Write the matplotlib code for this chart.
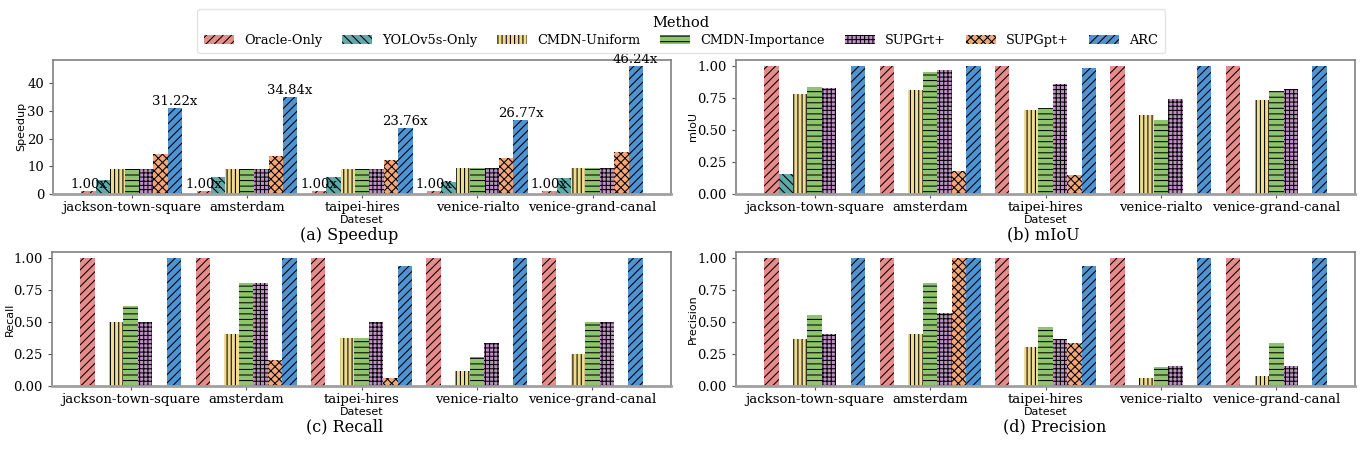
import matplotlib
matplotlib.use("Agg")
import matplotlib.pyplot as plt
import numpy as np

datasets = ["jackson-town-square", "amsterdam", "taipei-hires", "venice-rialto", "venice-grand-canal"]
methods = ["Oracle-Only", "YOLOv5s-Only", "CMDN-Uniform", "CMDN-Importance", "SUPGrt+", "SUPGpt+", "ARC"]
colors = ["#e88c8b", "#5ea9a9", "#f0dc8e", "#8fc46f", "#c08fc6", "#f4a677", "#4f93d3"]
hatches = ["////", "\\\\\\\\", "||||", "---", "++++", "xxxx", "////"]

speedup = {
    "Oracle-Only":     [1.00, 1.00, 1.00, 1.00, 1.00],
    "YOLOv5s-Only":    [5.1, 6.2, 6.2, 4.3, 5.8],
    "CMDN-Uniform":    [9.1, 9.1, 9.1, 9.4, 9.4],
    "CMDN-Importance": [9.1, 9.1, 9.1, 9.4, 9.4],
    "SUPGrt+":         [9.1, 9.1, 9.1, 9.4, 9.4],
    "SUPGpt+":         [14.5, 13.8, 12.3, 13.1, 15.2],
    "ARC":             [31.22, 34.84, 23.76, 26.77, 46.24],
}
miou = {
    "Oracle-Only":     [1.0, 1.0, 1.0, 1.0, 1.0],
    "YOLOv5s-Only":    [0.157, 0.0, 0.0, 0.0, 0.0],
    "CMDN-Uniform":    [0.783, 0.815, 0.658, 0.619, 0.736],
    "CMDN-Importance": [0.838, 0.956, 0.674, 0.580, 0.807],
    "SUPGrt+":         [0.830, 0.971, 0.862, 0.744, 0.822],
    "SUPGpt+":         [0.0, 0.180, 0.149, 0.0, 0.0],
    "ARC":             [1.0, 1.0, 0.984, 1.0, 1.0],
}
recall = {
    "Oracle-Only":     [1.0, 1.0, 1.0, 1.0, 1.0],
    "YOLOv5s-Only":    [0.0, 0.0, 0.0, 0.0, 0.0],
    "CMDN-Uniform":    [0.5, 0.405, 0.375, 0.117, 0.25],
    "CMDN-Importance": [0.625, 0.805, 0.375, 0.227, 0.5],
    "SUPGrt+":         [0.5, 0.805, 0.5, 0.337, 0.5],
    "SUPGpt+":         [0.0, 0.204, 0.063, 0.0, 0.0],
    "ARC":             [1.0, 1.0, 0.94, 1.0, 1.0],
}
precision = {
    "Oracle-Only":     [1.0, 1.0, 1.0, 1.0, 1.0],
    "YOLOv5s-Only":    [0.0, 0.0, 0.0, 0.0, 0.0],
    "CMDN-Uniform":    [0.368, 0.405, 0.305, 0.063, 0.078],
    "CMDN-Importance": [0.556, 0.805, 0.462, 0.149, 0.334],
    "SUPGrt+":         [0.407, 0.572, 0.368, 0.157, 0.157],
    "SUPGpt+":         [0.0, 1.0, 0.337, 0.0, 0.0],
    "ARC":             [1.0, 1.0, 0.94, 1.0, 1.0],
}

panels = [
    (speedup, "Speedup", "(a) Speedup"),
    (miou, "mIoU", "(b) mIoU"),
    (recall, "Recall", "(c) Recall"),
    (precision, "Precision", "(d) Precision"),
]

plt.rcParams["hatch.linewidth"] = 0.75
plt.rcParams["font.family"] = "DejaVu Serif"

fig = plt.figure(figsize=(13.66, 4.63), dpi=100)
W, H = 1366, 463
boxes = [
    (53.3, 671, 59.5, 194),
    (736, 1355, 59.5, 194),
    (52, 671, 252, 386),
    (736, 1355, 252, 386),
]
sub_centers = [349, 1043, 345, 1055]
ylabel_x = [21, 693, 10, 693]

width = 0.125
x = np.arange(len(datasets))
handles = None
for k, ((data, ylabel, sub), (l, r, t, b)) in enumerate(zip(panels, boxes)):
    ax = fig.add_axes([l / W, 1 - b / H, (r - l) / W, (b - t) / H])
    hs = []
    for i, m in enumerate(methods):
        bars = ax.bar(x + (i - 3) * width, data[m], width, color=colors[i],
                      hatch=hatches[i], edgecolor="black", linewidth=0, label=m)
        hs.append(bars)
        if k == 0 and m in ("Oracle-Only", "ARC"):
            for xi, v in zip(x + (i - 3) * width, data[m]):
                ax.text(xi, v, f"{v:.2f}x", ha="center", va="bottom", fontsize=9.5)
    handles = hs
    ax.set_xticks(x)
    ax.set_xticklabels(datasets, fontsize=9.5)
    ax.set_xlabel("Dateset", family="DejaVu Sans", fontsize=8, labelpad=1)
    ax.set_ylabel(ylabel, family="DejaVu Sans", fontsize=8)
    ax.yaxis.set_label_coords((ylabel_x[k] + 5 - l) / (r - l), 0.5)
    if k == 0:
        ax.set_yticks([0, 10, 20, 30, 40])
    else:
        ax.set_yticks([0, 0.25, 0.5, 0.75, 1.0])
        ax.set_yticklabels(["0.00", "0.25", "0.50", "0.75", "1.00"])
    ax.tick_params(axis="y", labelsize=9.5, length=3, color="#555555")
    ax.tick_params(axis="x", length=3, color="#555555", pad=2)
    for s in ax.spines.values():
        s.set_color("#808080")
        s.set_linewidth(1.2)
    ax.spines["bottom"].set_linewidth(2.0)
    ax.spines["bottom"].set_color("#a0a0a0")
    cx = sub_centers[k] / W
    cy = 1 - (b + 41) / H
    fig.text(cx, cy, sub, ha="center", va="center", fontsize=11.5)

fig.legend(handles, methods, loc="upper center", bbox_to_anchor=(681 / W, 1 - 3 / H),
           ncol=7, title="Method", fontsize=9.3, title_fontsize=10.5, frameon=True,
           edgecolor="#dddddd", fancybox=True, columnspacing=1.55, handlelength=2.3,
           borderpad=0.5, labelspacing=0.3)

fig.savefig("out.png", dpi=100)
